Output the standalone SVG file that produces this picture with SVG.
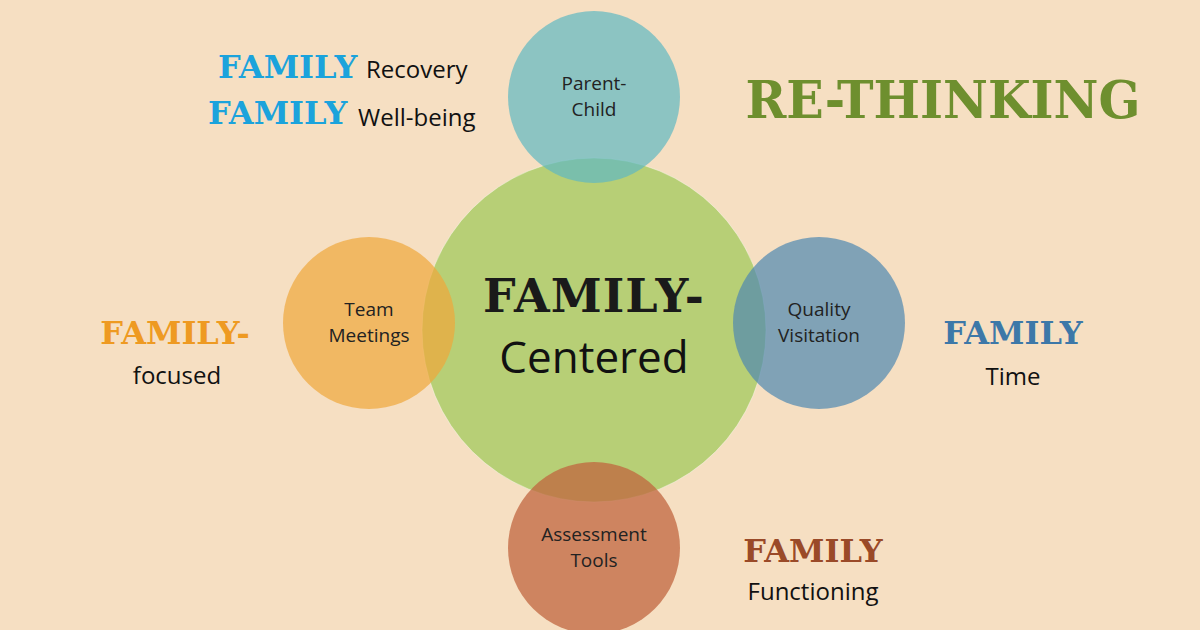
<svg xmlns="http://www.w3.org/2000/svg" width="1200" height="630" viewBox="0 0 1200 630">
<style>
.deco{font-family:"DejaVu Serif","Liberation Serif",serif;font-weight:bold;}
.sans{font-family:"Open Sans","Liberation Sans",sans-serif;fill:#111;}
.lbl{font-family:"Open Sans","Liberation Sans",sans-serif;font-size:19px;fill:#222;text-anchor:middle;}
</style>
<rect width="1200" height="630" fill="#f6dfc2"/>
<g id="connectors"></g>
<g id="center"><circle cx="594" cy="330" r="172" fill="#a2c95c" fill-opacity="0.75" stroke="#fff" stroke-opacity="0.4"/>
<text class="deco" x="594" y="312" font-size="46" text-anchor="middle" fill="#1a1a1a" letter-spacing="1">FAMILY-</text>
<text class="sans" x="594" y="373" font-size="44" text-anchor="middle">Centered</text></g>
<g id="parent"><circle cx="594" cy="97" r="86" fill="#5fb8c2" fill-opacity="0.7"/>
<text class="lbl" x="594" y="90">Parent-</text><text class="lbl" x="594" y="116">Child</text></g>
<g id="team"><circle cx="369" cy="323" r="86" fill="#f0a63a" fill-opacity="0.7"/>
<text class="lbl" x="369" y="316">Team</text><text class="lbl" x="369" y="342">Meetings</text></g>
<g id="quality"><circle cx="819" cy="323" r="86" fill="#4f88b0" fill-opacity="0.7"/>
<text class="lbl" x="819" y="316">Quality</text><text class="lbl" x="819" y="342">Visitation</text></g>
<g id="assess"><circle cx="594" cy="548" r="86" fill="#c0653f" fill-opacity="0.75"/>
<text class="lbl" x="594" y="541">Assessment</text><text class="lbl" x="594" y="567">Tools</text></g>
<g id="tl"><text class="deco" x="218" y="78" font-size="32" fill="#1ba3dc">FAMILY</text><text class="sans" x="366" y="78" font-size="24">Recovery</text>
<text class="deco" x="208" y="124" font-size="32" fill="#1ba3dc">FAMILY</text><text class="sans" x="358" y="126" font-size="24">Well-being</text></g>
<g id="rethink"><text class="deco" x="943" y="118" font-size="52" text-anchor="middle" fill="#6e8f2e" textLength="395" lengthAdjust="spacingAndGlyphs">RE-THINKING</text></g>
<g id="focused"><text class="deco" x="175" y="344" font-size="32" text-anchor="middle" fill="#ee9a22">FAMILY-</text><text class="sans" x="177" y="384" font-size="24" text-anchor="middle">focused</text></g>
<g id="time"><text class="deco" x="1013" y="344" font-size="32" text-anchor="middle" fill="#3d78a8">FAMILY</text><text class="sans" x="1013" y="385" font-size="24" text-anchor="middle">Time</text></g>
<g id="func"><text class="deco" x="813" y="562" font-size="32" text-anchor="middle" fill="#9a4a28">FAMILY</text><text class="sans" x="813" y="600" font-size="24" text-anchor="middle">Functioning</text></g>
</svg>
